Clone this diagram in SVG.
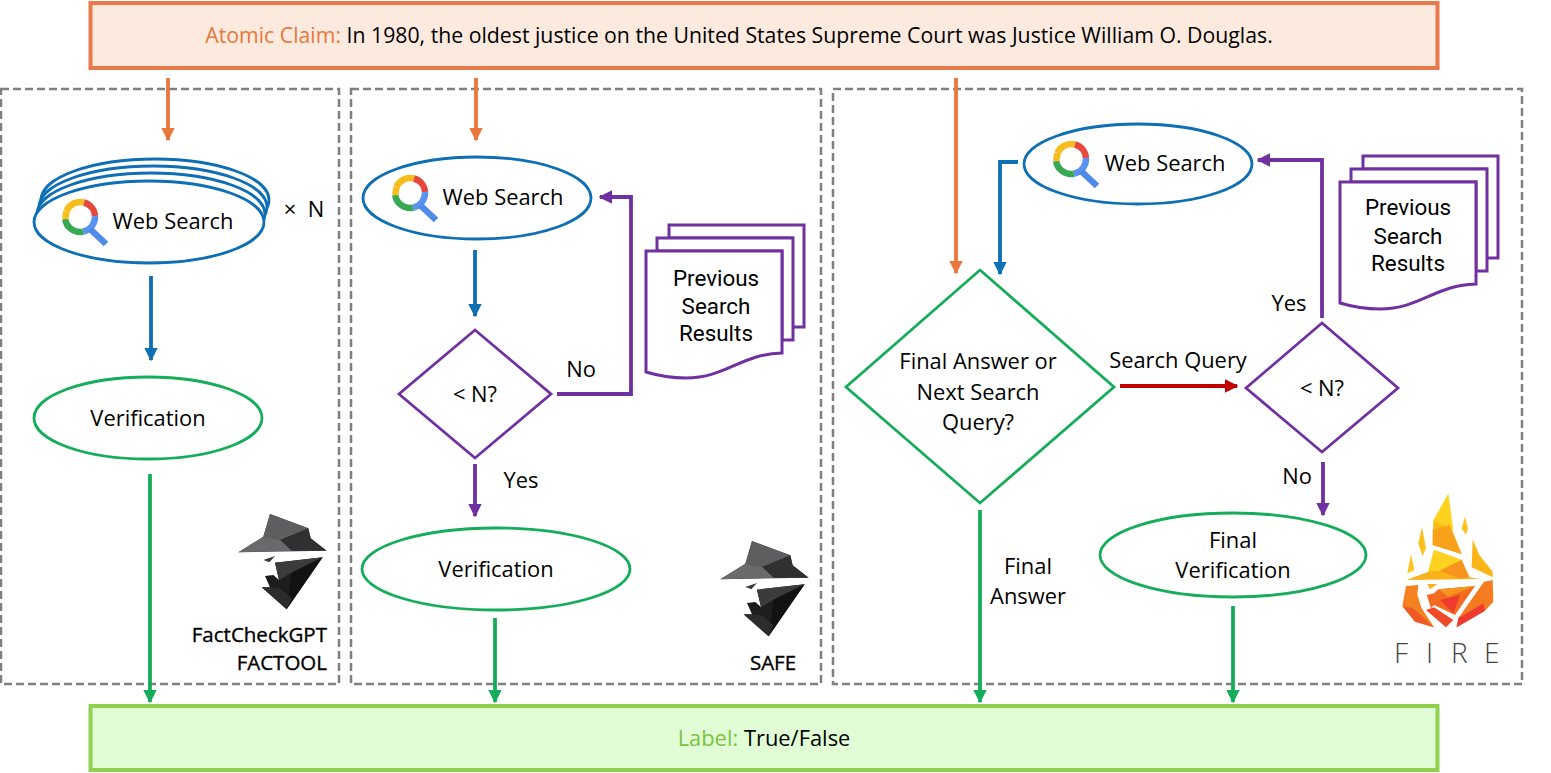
<svg xmlns="http://www.w3.org/2000/svg" xmlns:xlink="http://www.w3.org/1999/xlink" width="1551" height="773" viewBox="0 0 1551 773">
<style>
text{font-family:"Open Sans","Noto Sans",sans-serif;font-size:21.9px;fill:#000;text-anchor:middle}
.doc{font-family:Roboto,"Noto Sans",sans-serif;font-size:22.400px}
.claim{font-size:21.250px}
.logo{font-size:20.500px;stroke:#000;stroke-width:.35}
.panel{fill:none;stroke:#808080;stroke-width:2.500;stroke-dasharray:8 4}
.e{fill:#fff;stroke-width:2.800}
.bl{stroke:#0f6fb5}
.gr{stroke:#16ad5a}
.pu{stroke:#7030a0}
.d{fill:#fff;stroke-width:2.800;stroke-linejoin:miter}
.c{fill:none;stroke-width:3.800}
.or{stroke:#e9763a}
.rd{stroke:#c00000}
.pg{fill:#fff;stroke:#7030a0;stroke-width:3}
</style>
<defs>
<marker id="mo" viewBox="0 0 10 10" refX="9" refY="5" markerWidth="3.6" markerHeight="3.6" markerUnits="strokeWidth" orient="auto"><path d="M0 0L10 5L0 10z" fill="#e9763a"/></marker>
<marker id="mb" viewBox="0 0 10 10" refX="9" refY="5" markerWidth="3.6" markerHeight="3.6" markerUnits="strokeWidth" orient="auto"><path d="M0 0L10 5L0 10z" fill="#0f6fb5"/></marker>
<marker id="mg" viewBox="0 0 10 10" refX="9" refY="5" markerWidth="3.6" markerHeight="3.6" markerUnits="strokeWidth" orient="auto"><path d="M0 0L10 5L0 10z" fill="#16ad5a"/></marker>
<marker id="mp" viewBox="0 0 10 10" refX="9" refY="5" markerWidth="3.6" markerHeight="3.6" markerUnits="strokeWidth" orient="auto"><path d="M0 0L10 5L0 10z" fill="#7030a0"/></marker>
<marker id="mr" viewBox="0 0 10 10" refX="9" refY="5" markerWidth="3.6" markerHeight="3.6" markerUnits="strokeWidth" orient="auto"><path d="M0 0L10 5L0 10z" fill="#c00000"/></marker>
<g id="lens">
<g fill="none" stroke-width="6.500">
<path d="M-13.500 -6A15 15 0 0 1 4 -14.500" stroke="#f6bd1c"/>
<path d="M4 -14.500A15 15 0 0 1 15 -1" stroke="#e5483d"/>
<path d="M15 -1A15 15 0 0 1 3 14.700" stroke="#5a93ee"/>
<path d="M3 14.700A15 15 0 0 1 -14.800 2" stroke="#39a853"/>
<path d="M-14.800 2L-13.500 -6" stroke="#f6bd1c"/>
</g>
<path d="M10 12L26 27" stroke="#4f8ae8" stroke-width="6.500" fill="none"/>
</g>
<g id="docs">
<path class="pg" d="M23 -26H158V76H146V-13H23z"/>
<path class="pg" d="M11 -13H147V89H136V0H11z"/>
<path class="pg" d="M0 0H136V102C95 103 80 127 40 127C22 127 10 124 0 121z"/>
</g>
<g id="spy">
<path d="M270 42L385 85L392 115L440 152L175 157L250 110z" fill="#4d4d4f"/>
<path d="M270 42L385 85L300 120L250 110z" fill="#5e5e60"/>
<path d="M385 85L392 115L440 152L335 152L300 120z" fill="#303032"/>
<path d="M250 110L300 120L335 152L175 157z" fill="#6a6a6c"/>
<path d="M250 180L285 168L268 187z" fill="#3a3a3c"/>
<path d="M285 188L428 172L320 328L245 262L270 262L255 228L280 225L297 240z" fill="#1d1d1f"/>
<path d="M285 188L428 172L335 218L297 240z" fill="#3b3b3d"/>
<path d="M335 218L428 172L320 328z" fill="#121214"/>
<path d="M245 262L300 265L335 295L320 328z" fill="#2c2c2e"/>
</g>
</defs>

<g id="panel-factcheck"><rect class="panel" x="1" y="89" width="338" height="595"/></g>
<g id="panel-safe"><rect class="panel" x="351" y="89" width="470" height="595"/></g>
<g id="panel-fire"><rect class="panel" x="833" y="89" width="689" height="595"/></g>

<g id="claim"><rect x="90.500" y="3" width="1347" height="65" fill="#fdeadf" stroke="#e9784a" stroke-width="4"/>
<text class="claim" x="739" y="43"><tspan fill="#e9763a">Atomic Claim:</tspan> In 1980, the oldest justice on the United States Supreme Court was Justice William O. Douglas.</text></g>
<g id="label"><rect x="90.500" y="706" width="1347" height="64" fill="#e0fdd6" stroke="#8fd14f" stroke-width="4"/>
<text x="764" y="746"><tspan fill="#7fc241">Label:</tspan> True/False</text></g>

<g id="connectors">
<path class="c or" marker-end="url(#mo)" d="M168 78V140"/>
<path class="c or" marker-end="url(#mo)" d="M476 78V140"/>
<path class="c or" marker-end="url(#mo)" d="M956 78V273"/>
<path class="c bl" marker-end="url(#mb)" d="M151 276V360"/>
<path class="c bl" marker-end="url(#mb)" d="M475 250V316"/>
<path class="c bl" marker-end="url(#mb)" d="M1018 162H1000V274"/>
<path class="c gr" marker-end="url(#mg)" d="M150 474V702"/>
<path class="c gr" marker-end="url(#mg)" d="M495 618V702"/>
<path class="c gr" marker-end="url(#mg)" d="M980 510V702"/>
<path class="c gr" marker-end="url(#mg)" d="M1233 606V702"/>
<path class="c pu" marker-end="url(#mp)" d="M557 394H631V197H600"/>
<path class="c pu" marker-end="url(#mp)" d="M475 464V516"/>
<path class="c pu" marker-end="url(#mp)" d="M1322 318V160H1258"/>
<path class="c pu" marker-end="url(#mp)" d="M1323 462V515"/>
<path class="c rd" marker-end="url(#mr)" d="M1120 386H1237"/>
</g>

<g id="p1-websearch">
<ellipse class="e bl" cx="155" cy="200" rx="114" ry="41"/>
<ellipse class="e bl" cx="153" cy="207" rx="114" ry="41"/>
<ellipse class="e bl" cx="151" cy="214" rx="114" ry="41"/>
<ellipse class="e bl" cx="149" cy="222" rx="115" ry="41"/>
<use xlink:href="#lens" href="#lens" x="80" y="217"/>
<text x="173" y="229">Web Search</text>
<text x="304" y="217" word-spacing="6">× N</text>
</g>
<g id="p1-verification"><ellipse class="e gr" cx="148" cy="418" rx="114" ry="41"/><text x="148" y="426">Verification</text></g>
<g id="p1-logo"><use xlink:href="#spy" href="#spy" transform="translate(180 500) scale(.3333)"/>
<text class="logo" x="327" y="642" style="text-anchor:end">FactCheckGPT</text>
<text class="logo" x="327" y="670" style="text-anchor:end">FACTOOL</text></g>

<g id="p2-websearch"><ellipse class="e bl" cx="477" cy="198" rx="114" ry="41"/><use xlink:href="#lens" href="#lens" x="410" y="193"/><text x="503" y="205">Web Search</text></g>
<g id="p2-check"><path class="d pu" d="M475 330L551 394L475 458L399 394z"/><text x="475" y="402">&lt; N?</text></g>
<g id="p2-docs"><use xlink:href="#docs" href="#docs" x="646" y="251"/><text class="doc" x="716" y="286">Previous</text><text class="doc" x="716" y="314">Search</text><text class="doc" x="716" y="341">Results</text></g>
<g id="p2-no"><text x="581" y="377">No</text></g>
<g id="p2-yes"><text x="521" y="488">Yes</text></g>
<g id="p2-verification"><ellipse class="e gr" cx="496" cy="569" rx="134" ry="41"/><text x="496" y="577">Verification</text></g>
<g id="p2-logo"><use xlink:href="#spy" href="#spy" transform="translate(662 527) scale(.3333)"/><text class="logo" x="773" y="670">SAFE</text></g>

<g id="p3-websearch"><ellipse class="e bl" cx="1138" cy="164" rx="114" ry="40"/><use xlink:href="#lens" href="#lens" x="1071" y="159"/><text x="1165" y="171">Web Search</text></g>
<g id="p3-docs"><use xlink:href="#docs" href="#docs" x="1340" y="182"/><text class="doc" x="1408" y="215">Previous</text><text class="doc" x="1408" y="244">Search</text><text class="doc" x="1408" y="271">Results</text></g>
<g id="p3-decision"><path class="d gr" d="M980 270L1114 387L980 503L846 387z"/><text x="978" y="369">Final Answer or</text><text x="978" y="400">Next Search</text><text x="978" y="430">Query?</text></g>
<g id="p3-check"><path class="d pu" d="M1322 323L1398 388L1322 452L1246 388z"/><text x="1322" y="396">&lt; N?</text></g>
<g id="p3-labels">
<text x="1178" y="368">Search Query</text>
<text x="1289" y="311">Yes</text>
<text x="1297" y="484">No</text>
<text x="1028" y="574">Final</text>
<text x="1028" y="604">Answer</text>
</g>
<g id="p3-verification"><ellipse class="e gr" cx="1233" cy="555" rx="133" ry="42"/><text x="1233" y="548">Final</text><text x="1233" y="578">Verification</text></g>
<g id="p3-logo"><g transform="translate(1360 480) scale(.3333)">
<path d="M265 42L220 122L218 195L305 222L268 130z" fill="#fbb917"/>
<path d="M265 42L220 122L280 150z" fill="#ffd21f"/>
<path d="M218 150L268 135L305 222L218 195z" fill="#f9a11b"/>
<path d="M315 110L324 145L318 165L305 145z" fill="#fdc421"/>
<path d="M186 142L198 205L187 228L175 190z" fill="#fcc11d"/>
<path d="M153 222L163 270L142 280z" fill="#fdc421"/>
<path d="M338 178L358 225L398 275L398 292L335 262z" fill="#fbb517"/>
<path d="M222 210L305 240L328 292L360 297L140 300L205 275z" fill="#fbb11a"/>
<path d="M222 210L305 240L240 272L205 275z" fill="#ffd21f"/>
<path d="M240 272L305 240L328 292L300 296z" fill="#f6941d"/>
<path d="M138 318L175 315L172 345L185 385L222 442L165 425L127 378z" fill="#f58220"/>
<path d="M127 378L165 425L222 442L160 385z" fill="#ef5a28"/>
<path d="M202 312L232 312L210 328z" fill="#fbb11a"/>
<path d="M200 345L222 340L235 328L345 318L285 405L222 375L213 385z" fill="#f26b21"/>
<path d="M235 328L345 318L265 350z" fill="#f7941d"/>
<path d="M240 360L300 345L280 400z" fill="#ee3a2f"/>
<path d="M198 390L222 382L280 420L258 442z" fill="#ef4a2a"/>
<path d="M372 305L398 300L400 365L375 392L290 442L295 415z" fill="#f47b20"/>
<path d="M295 415L370 370L375 392L290 442z" fill="#ee3a2f"/>
</g>
<text x="1394 1426 1451 1484" y="663" style="font-size:28px;font-weight:300;fill:#444;text-anchor:start">FIRE</text></g>
</svg>
